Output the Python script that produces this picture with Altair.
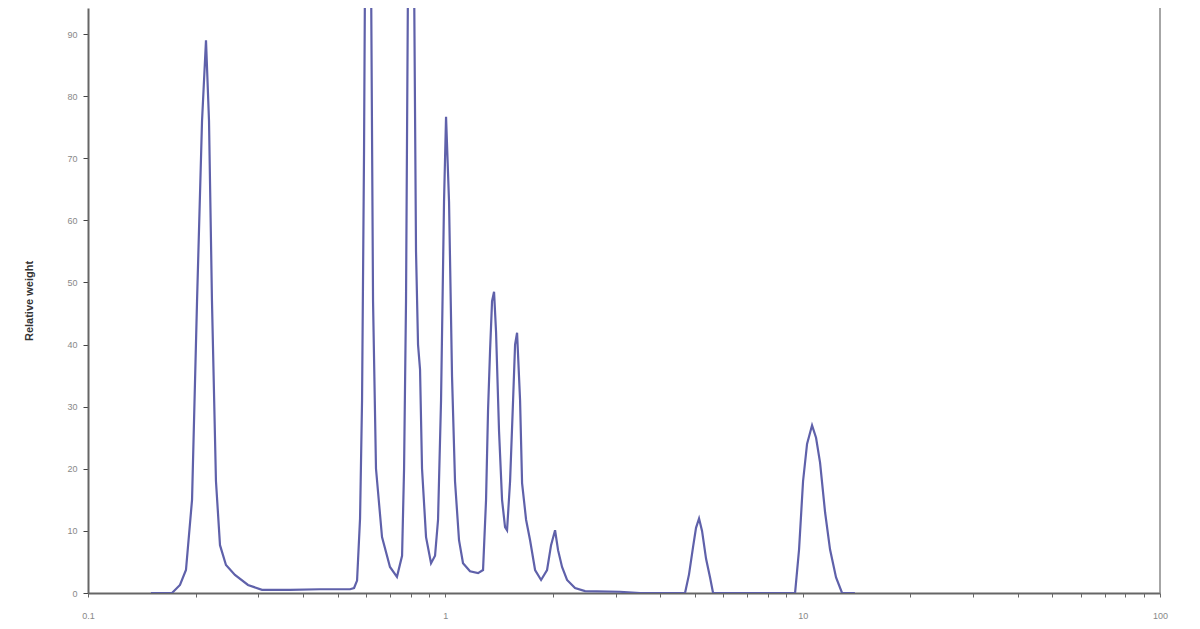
import altair as alt
import pandas as pd

# particle size (x, log scale) and relative weight (y)
size = [0.150, 0.1718, 0.1809, 0.188, 0.1955, 0.2019, 0.2085, 0.2139, 0.2181, 0.2223,
        0.2281, 0.2341, 0.2433, 0.2578, 0.2804, 0.3069, 0.3676, 0.4459, 0.5412,
        0.5553, 0.5662, 0.5772, 0.5847, 0.5922, 0.5960, 0.6077, 0.6196, 0.6276, 0.6397,
        0.6650, 0.7000, 0.7322,
        0.7567, 0.7665, 0.7762, 0.7864, 0.8018, 0.8174, 0.8279, 0.8387, 0.8496, 0.8606,
        0.8831, 0.9120,
        0.9358, 0.9541, 0.9727, 0.9916, 1.0046, 1.0242, 1.0442, 1.0644, 1.0922, 1.1207,
        1.1725, 1.2346, 1.2750,
        1.3000, 1.3169, 1.3340, 1.3513, 1.3688, 1.3866, 1.4136, 1.4412, 1.4693, 1.4884,
        1.5177, 1.5473, 1.5674, 1.5877, 1.6187, 1.6397, 1.6826, 1.7265, 1.7830, 1.8533,
        1.9260, 1.9764, 2.0280, 2.0676, 2.1214, 2.1910, 2.3067, 2.4604, 3.0830, 3.506,
        4.686, 4.808, 4.934, 5.030, 5.129, 5.229, 5.366, 5.506, 5.614,
        9.522, 9.770, 10.025, 10.287, 10.624, 10.901, 11.186, 11.553, 11.930, 12.40, 12.89,
        14.0]
weight = [0.0, 0.0, 1.3, 3.7, 15.0, 47.0, 76.0, 89.0, 76.0, 47.0,
          18.0, 7.7, 4.5, 2.9, 1.3, 0.5, 0.5, 0.6, 0.6,
          0.8, 2.0, 12.0, 31.0, 71.0, 100.0, 130.0, 100.0, 47.0, 20.0,
          9.0, 4.2, 2.6,
          6.0, 20.0, 47.0, 100.0, 130.0, 100.0, 55.0, 40.0, 36.0, 20.0,
          9.0, 4.8,
          6.0, 11.8, 31.0, 63.0, 76.7, 63.0, 34.8, 18.0, 8.5, 4.8,
          3.5, 3.2, 3.7,
          15.0, 29.5, 39.0, 47.0, 48.5, 42.0, 26.0, 15.0, 10.6, 10.1,
          18.0, 31.0, 40.0, 41.9, 31.0, 17.7, 11.8, 8.5, 3.7, 2.1,
          3.7, 7.7, 10.1, 6.9, 4.2, 2.1, 0.8, 0.3, 0.2, 0.0,
          0.0, 3.0, 7.4, 10.5, 12.0, 10.0, 5.5, 2.5, 0.0,
          0.0, 7.0, 18.0, 24.0, 27.0, 25.0, 21.0, 13.0, 7.0, 2.5, 0.0,
          0.0]

x_tick_values = [0.1, 0.2, 0.3, 0.4, 0.5, 0.6, 0.7, 0.8, 0.9,
                 1, 2, 3, 4, 5, 6, 7, 8, 9,
                 10, 20, 30, 40, 50, 60, 70, 80, 90, 100]
x_label_values = [0.1, 1, 10, 100]
y_tick_values = [0, 10, 20, 30, 40, 50, 60, 70, 80, 90]

df = pd.DataFrame({"size": size, "weight": weight})

W, H = 1072, 585

label_expr = " || ".join(f"datum.value == {v}" for v in x_label_values)

line = alt.Chart(df).mark_line(clip=True, color="#5f61aa", strokeWidth=2.2).encode(
    x=alt.X("size:Q",
            scale=alt.Scale(type="log", domain=[0.1, 100]),
            axis=alt.Axis(values=x_tick_values, format="~g",
                          labelExpr=f"({label_expr}) ? datum.label : ''",
                          labelFlush=False, labelOverlap=False,
                          title=None, grid=False, tickSize=4,
                          domainColor="#666", domainWidth=2, tickColor="#666",
                          labelColor="#888", labelFontSize=9, labelPadding=14)),
    y=alt.Y("weight:Q",
            scale=alt.Scale(domain=[0, 94.2], nice=False),
            axis=alt.Axis(values=y_tick_values, title="Relative weight",
                          grid=False, tickSize=5, domainColor="#666", domainWidth=2,
                          tickColor="#444", labelColor="#888", labelFontSize=9,
                          labelPadding=6, titleFontSize=11, titleColor="#333",
                          titleFontWeight="bold", titlePadding=32)),
)

frame = alt.Chart(pd.DataFrame({"a": [0]})).mark_rule(color="#888", strokeWidth=1.5).encode(
    x=alt.value(W), y=alt.value(0), y2=alt.value(H)
)

chart = alt.layer(line, frame).properties(
    width=W, height=H,
    autosize=alt.AutoSizeParams(type="none"),
    padding={"left": 80, "top": 0, "right": 30, "bottom": 28},
).configure(font="Liberation Sans").configure_view(strokeWidth=0)

chart.save("out.html", embed_options={"renderer": "svg", "actions": False})
